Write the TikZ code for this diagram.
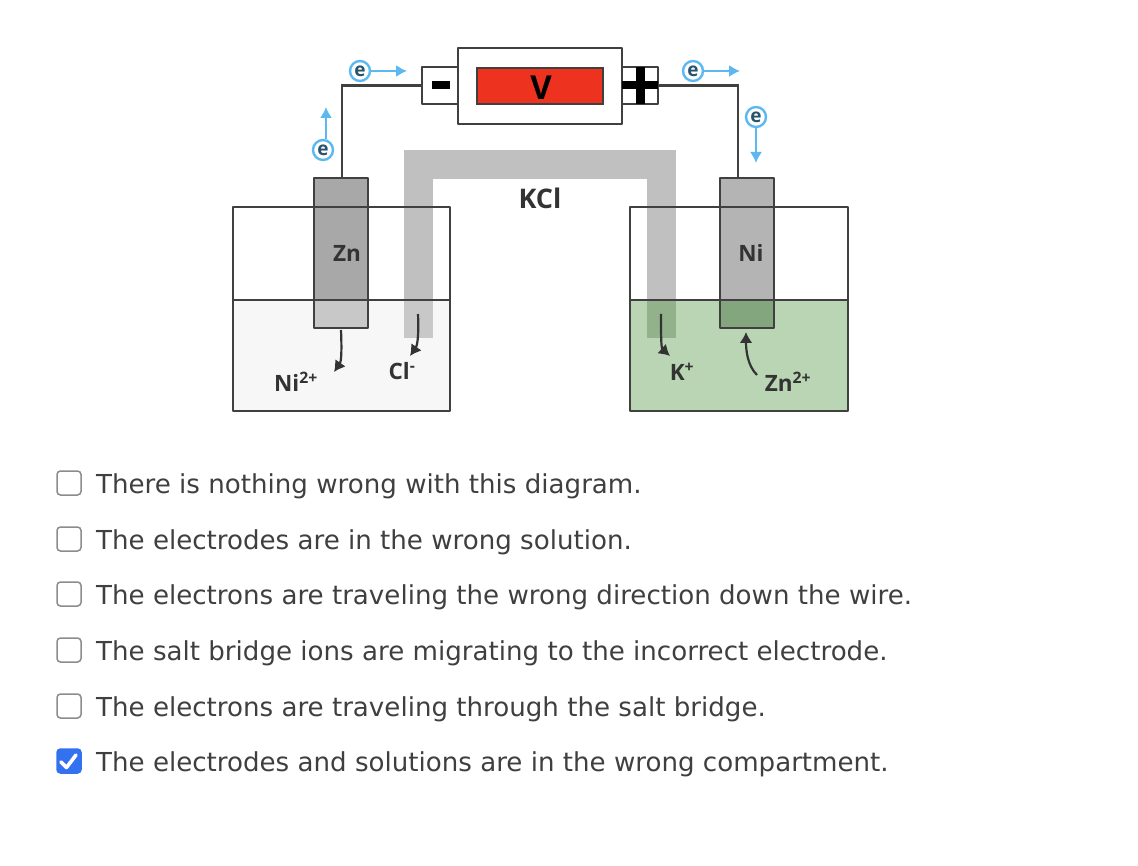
\documentclass[tikz,border=0pt]{standalone}
\usepackage{fontspec}
\setmainfont{DejaVu Sans}
\newfontfamily\lblfont{Open Sans}
\usetikzlibrary{arrows.meta}
\definecolor{wirec}{HTML}{404040}
\definecolor{ecol}{HTML}{5BB8F0}
\definecolor{bridgec}{HTML}{C0C0C0}
\definecolor{txtc}{HTML}{3F3F3F}
\definecolor{boxc}{HTML}{8C8C8C}
\definecolor{checkc}{HTML}{3272F0}
\tikzset{
 x=1pt,y=-1pt,
 wire/.style={draw=wirec,line width=2.2pt},
 ebox/.style={draw=wirec,line width=2.4pt,line join=round},
 elec/.style={circle,draw=ecol,line width=2.4pt,inner sep=0pt,minimum size=20pt,font=\lblfont\bfseries\fontsize{19}{19}\selectfont,text=ecol!45!black},
 earrow/.style={draw=ecol,line width=1.8pt,-{Latex[length=11pt,width=12pt]}},
 ion/.style={draw=black!80,line width=2.2pt,-{Latex[length=11pt,width=13pt]}},
 lbl/.style={font=\lblfont\bfseries\fontsize{22.5}{22.5}\selectfont,text=black!80,inner sep=0pt},
 chk/.style={draw=boxc,line width=1.5pt,rounded corners=3.5pt,fill=white,minimum size=24pt,inner sep=0pt},
 opt/.style={anchor=west,inner sep=0pt,text=txtc,font=\fontsize{26.1}{26.1}\selectfont},
}
\begin{document}
\begin{tikzpicture}
\useasboundingbox (0,0) rectangle (1138,866);
% solutions
\fill[fill=black!3] (233,300) rectangle (450,411);
\fill[fill={rgb,255:red,185;green,213;blue,179}] (630,300) rectangle (848,411);
% salt bridge
\fill[bridgec] (404,150) rectangle (676,179);
\fill[bridgec] (404,179) rectangle (433,300);
\fill[bridgec] (647,179) rectangle (676,300);
\fill[fill={rgb,255:red,200;green,200;blue,200}] (404,300) rectangle (433,338);
\fill[fill={rgb,255:red,145;green,178;blue,138}] (647,300) rectangle (676,338);
% electrodes
\fill[fill={rgb,255:red,168;green,168;blue,168}] (314,178) rectangle (368,300);
\fill[fill={rgb,255:red,200;green,200;blue,200}] (314,300) rectangle (368,328);
\fill[fill={rgb,255:red,180;green,180;blue,180}] (720,178) rectangle (774,300);
\fill[fill={rgb,255:red,132;green,166;blue,127}] (720,300) rectangle (774,328);
\draw[ebox] (314,178) rectangle (368,328);
\draw[ebox] (720,178) rectangle (774,328);
% beakers
\draw[ebox] (233,207) rectangle (450,411);
\draw[ebox] (630,207) rectangle (848,411);
\draw[wire] (233,300) -- (450,300);
\draw[wire] (630,300) -- (848,300);
% voltmeter
\node[ebox,fill=white,minimum width=164pt,minimum height=76pt,inner sep=0pt] (meter) at (540,86) {};
\node[draw=wirec,line width=1.2pt,fill={rgb,255:red,238;green,50;blue,32},minimum width=126pt,minimum height=36pt,inner sep=0pt] (red) at (540,86) {};
\node[inner sep=0pt,font=\lblfont\bfseries\fontsize{33}{33}\selectfont,text=black] (vlab) at (541,88) {V};
\node[ebox,fill=white,minimum width=36pt,minimum height=37pt,inner sep=0pt] (neg) at (440,85.5) {};
\node[ebox,fill=white,minimum width=36pt,minimum height=37pt,inner sep=0pt] (pos) at (640,85.5) {};
\fill[black] (432,81.5) rectangle (450,89.5);
\fill[black] (622,81.5) rectangle (658,89.5);
\fill[black] (635.5,67) rectangle (644.5,104);
\coordinate (zntop) at (342,178);
\coordinate (nitop) at (738,178);
\draw[wire] (zntop) -- (zntop |- neg.west) -- (neg.west);
\draw[wire] (pos.east) -- (nitop |- pos.east) -- (nitop);
% electrons
\node[elec] (e1) at (360,71) {e};
\node[elec] (e2) at (323,150) {e};
\node[elec] (e3) at (693,71) {e};
\node[elec] (e4) at (756,117) {e};
\coordinate (t1) at (407,71);
\coordinate (t2) at (326,107);
\coordinate (t3) at (740,71);
\coordinate (t4) at (756,163);
\draw[earrow] (e1) -- (t1);
\draw[earrow] (e2.north) ++(3,0) -- (t2);
\draw[earrow] (e3) -- (t3);
\draw[earrow] (e4) -- (t4);
% labels
\node[lbl,font=\lblfont\bfseries\fontsize{27}{27}\selectfont] (kcl) at (540,198) {KCl};
\node[lbl] (zn) at (347,253) {Zn};
\node[lbl] (ni) at (751,253) {Ni};
\node[lbl] (nii) at (296,382) {Ni\textsuperscript{2+}};
\node[lbl] (cl) at (402,371) {Cl\textsuperscript{-}};
\node[lbl] (kp) at (682,372) {K\textsuperscript{+}};
\node[lbl] (znp) at (788,382) {Zn\textsuperscript{2+}};
% ion arrows
\coordinate (s1) at (341,330);
\coordinate (h1) at (334,372);
\coordinate (s2) at (418,314);
\coordinate (h2) at (410,356);
\coordinate (s3) at (661,314);
\coordinate (h3) at (670,356);
\coordinate (s4) at (757,375);
\coordinate (h4) at (746,332);
\draw[ion] (s1) .. controls (342,355) and (341,362) .. (h1);
\draw[ion] (s2) .. controls (419,338) and (417,346) .. (h2);
\draw[ion] (s3) .. controls (661,335) and (661,348) .. (h3);
\draw[ion] (s4) .. controls (748,366) and (746,352) .. (h4);
% options
\node[chk] (c1) at (69,483) {};
\node[chk] (c2) at (69,539) {};
\node[chk] (c3) at (69,594) {};
\node[chk] (c4) at (69,650) {};
\node[chk] (c5) at (69,706) {};
\node[chk,draw=checkc,fill=checkc] (c6) at (69,761) {};
\draw[white,line width=3.6pt,line cap=round,line join=round] (61,762) -- (66.5,767.5) -- (76,755);
\node[opt] (o1) at (96,486) {There is nothing wrong with this diagram.};
\node[opt] (o2) at (96,542) {The electrodes are in the wrong solution.};
\node[opt] (o3) at (96,597) {The electrons are traveling the wrong direction down the wire.};
\node[opt] (o4) at (96,653) {The salt bridge ions are migrating to the incorrect electrode.};
\node[opt] (o5) at (96,709) {The electrons are traveling through the salt bridge.};
\node[opt] (o6) at (96,764) {The electrodes and solutions are in the wrong compartment.};
\end{tikzpicture}
\end{document}
